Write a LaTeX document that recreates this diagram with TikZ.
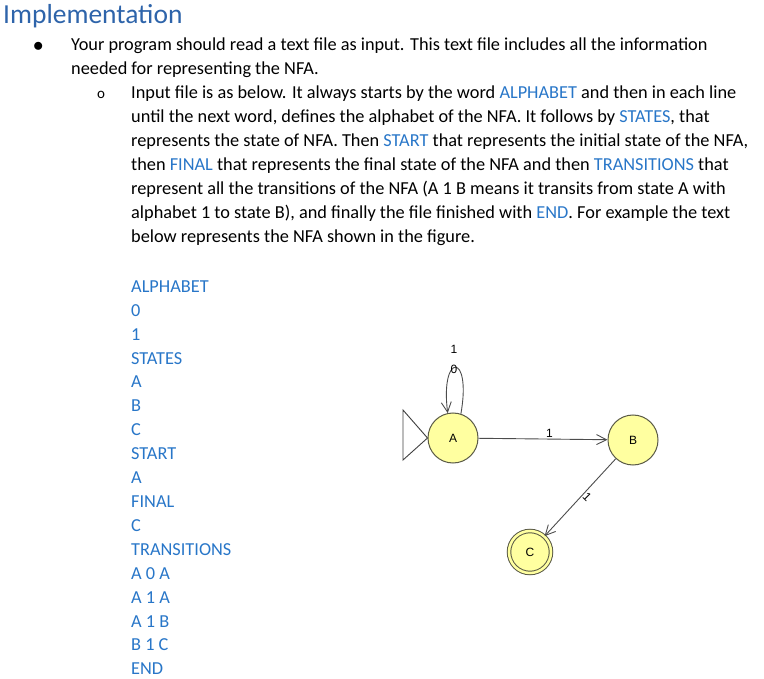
\documentclass[tikz,border=0pt]{standalone}
\usepackage{fontspec}
\setmainfont{Carlito}
\setsansfont{Liberation Sans}
\usetikzlibrary{arrows.meta}
\definecolor{kw}{RGB}{40,118,200}
\definecolor{head}{RGB}{46,100,170}
\definecolor{sfill}{RGB}{255,255,160}
\definecolor{sline}{RGB}{90,90,70}
\tikzset{
 txt/.style={anchor=base west,inner sep=0pt,font=\fontsize{18.3}{20}\selectfont},
 kwt/.style={txt,text=kw},
 st/.style={circle,draw=sline,fill=sfill,minimum size=50pt,inner sep=0pt,font=\sffamily\fontsize{12}{13}\selectfont,line width=1pt},
 edge/.style={draw=black!70,line width=0.9pt,-{Straight Barb[length=10pt,width=10pt]}},
 lbl/.style={font=\sffamily\fontsize{12}{13}\selectfont,inner sep=1pt}
}
\newcommand{\kw}[1]{\textcolor{kw}{#1}}
\begin{document}
\begin{tikzpicture}[x=1pt,y=-1pt]
\useasboundingbox (0,0) rectangle (764,679);
\node[anchor=base west,inner sep=0pt,text=head,font=\fontsize{27.5}{30}\selectfont] (h) at (3,24) {Implementation};
\node[anchor=base west,inner sep=0pt,font=\fontsize{20}{20}\selectfont] (b1) at (33,52) {$\bullet$};
\node[txt] (l1) at (71,51) {Your program should read a text file as input. This text file includes all the information};
\node[txt] (l2) at (71,75) {needed for representing the NFA.};
\node[anchor=base west,inner sep=0pt,font=\fontsize{15}{16}\selectfont] (b2) at (97,99) {o};
\node[txt] (m1) at (131,99) {Input file is as below. It always starts by the word \kw{ALPHABET} and then in each line};
\node[txt] (m2) at (131,123) {until the next word, defines the alphabet of the NFA. It follows by \kw{STATES}, that};
\node[txt] (m3) at (131,147) {represents the state of NFA. Then \kw{START} that represents the initial state of the NFA,};
\node[txt] (m4) at (131,171) {then \kw{FINAL} that represents the final state of the NFA and then \kw{TRANSITIONS} that};
\node[txt] (m5) at (131,195) {represent all the transitions of the NFA (A 1 B means it transits from state A with};
\node[txt] (m6) at (131,219) {alphabet 1 to state B), and finally the file finished with \kw{END}. For example the text};
\node[txt] (m7) at (131,243) {below represents the NFA shown in the figure.};
\foreach \t [count=\i] in {ALPHABET,0,1,STATES,A,B,C,START,A,FINAL,C,TRANSITIONS,A 0 A,A 1 A,A 1 B,B 1 C,END}
  \node[kwt] (f\i) at (131,{268.5+23.9*\i}) {\t};
% automaton
\node[st] (A) at (453,438) {A};
\node[st] (B) at (633,440) {B};
\node[st,minimum size=42pt,double=sfill,double distance=2.5pt,draw=sline] (C) at (530,552) {C};
\coordinate (t1) at (403,410);
\coordinate (t2) at (403,460);
\draw[draw=black!75,line width=0.9pt] (t1) -- (A.west) -- (t2) -- cycle;
\draw[edge] (A.72) .. controls (472,352) and (440,352) .. (A.102);
\node[lbl] (l10) at (454,369) {0};
\node[lbl] (l11) at (454,349) {1};
\draw[edge] (A) -- node[lbl,above,pos=0.55] {1} (B);
\draw[edge] (B) -- node[lbl,right,pos=0.45,rotate=-45] {1} (C);
\end{tikzpicture}
\end{document}
